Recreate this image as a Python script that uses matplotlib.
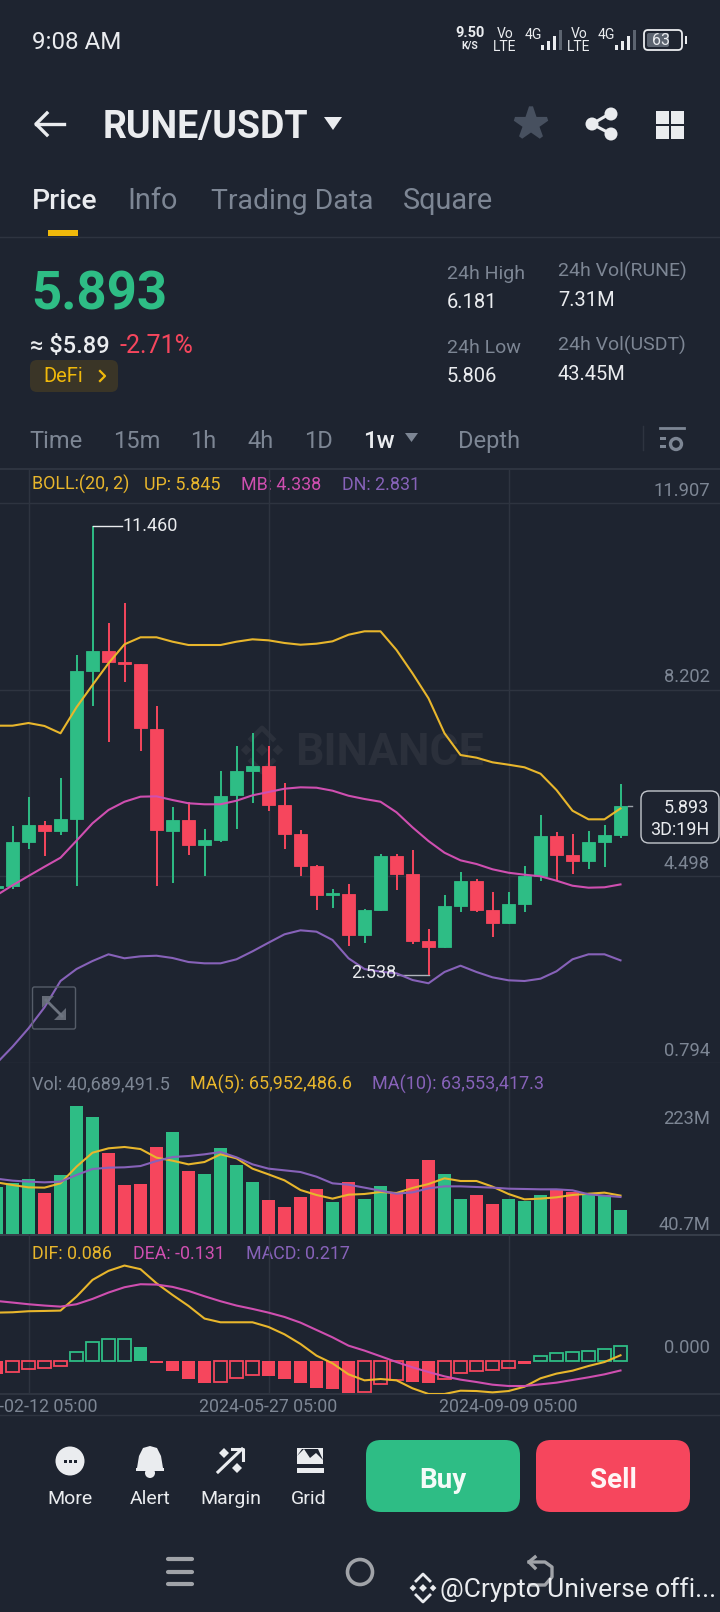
import matplotlib
matplotlib.use('Agg')
import matplotlib.pyplot as plt
import numpy as np
from matplotlib.patches import Circle, FancyBboxPatch, Polygon, Rectangle
from matplotlib.transforms import ScaledTranslation

plt.rcParams['font.family'] = ['Roboto', 'DejaVu Sans']

BG = '#1e2430'
GRID = '#2e3440'
GREEN = '#2ebd85'
RED = '#f6465d'
YELLOW = '#e8b62c'
PINK = '#cf4fb0'
PURPLE = '#8762b9'
GRAY = '#7d8694'
WHITE = '#eaecef'

# candles, the first one is cut by the left edge
idx = np.arange(-1, 39)
opens = [4.267, 4.301, 5.180, 5.523, 5.398, 5.642, 8.579, 8.970, 8.746, 8.706,
         7.422, 5.398, 5.610, 5.114, 5.219, 6.112, 6.595, 6.694, 5.914, 5.332,
         4.703, 4.128, 4.154, 3.340, 3.824, 4.896, 4.539, 3.209, 3.102, 3.909,
         4.406, 3.824, 3.572, 3.949, 4.499, 5.299, 4.922, 4.808, 5.186, 5.318]
highs = [4.320, 5.497, 6.079, 5.602, 6.450, 8.897, 11.460, 9.520, 9.917, 8.706,
         7.878, 5.880, 5.979, 5.443, 6.589, 7.091, 7.349, 7.091, 6.344, 5.418,
         4.723, 4.253, 4.352, 3.850, 4.947, 4.936, 5.027, 3.447, 4.122, 4.578,
         4.445, 4.187, 4.187, 4.703, 5.709, 5.372, 5.338, 5.392, 5.517, 6.325]
lows = [4.250, 4.241, 5.041, 4.896, 5.313, 4.306, 7.878, 7.170, 8.361, 6.985,
        4.306, 4.372, 4.928, 4.505, 5.180, 5.432, 5.960, 5.801, 5.035, 4.505,
        3.830, 3.876, 3.110, 3.169, 3.810, 4.233, 3.155, 2.538, 3.076, 3.796,
        3.790, 3.300, 3.560, 3.796, 4.412, 4.425, 4.551, 4.650, 4.689, 5.259]
closes = [4.306, 5.174, 5.523, 5.392, 5.630, 8.573, 8.970, 8.746, 8.718, 7.436,
          5.412, 5.610, 5.114, 5.219, 6.098, 6.595, 6.694, 5.920, 5.332, 4.709,
          4.128, 4.162, 3.340, 3.824, 4.896, 4.539, 3.209, 3.102, 3.909, 4.406,
          3.824, 3.572, 3.943, 4.499, 5.299, 4.928, 4.808, 5.186, 5.313, 5.893]

boll_up = [7.488, 7.488, 7.541, 7.482, 7.337, 7.853, 8.295, 8.726, 9.103, 9.242,
           9.242, 9.155, 9.089, 9.089, 9.089, 9.155, 9.202, 9.182, 9.129, 9.095,
           9.115, 9.162, 9.293, 9.361, 9.361, 8.990, 8.527, 8.031, 7.337, 6.906,
           6.853, 6.761, 6.714, 6.662, 6.535, 6.211, 5.801, 5.630, 5.630, 5.845]
boll_mb = [4.122, 4.320, 4.505, 4.689, 4.868, 5.205, 5.551, 5.815, 5.979, 6.079,
           6.086, 6.013, 5.948, 5.928, 5.928, 5.999, 6.106, 6.172, 6.237, 6.265,
           6.257, 6.198, 6.098, 6.033, 5.979, 5.769, 5.471, 5.199, 4.967, 4.816,
           4.743, 4.638, 4.570, 4.531, 4.499, 4.412, 4.312, 4.273, 4.281, 4.338]
boll_dn = [0.788, 1.117, 1.482, 1.899, 2.421, 2.659, 2.818, 2.951, 2.872, 2.911,
           2.923, 2.878, 2.798, 2.772, 2.772, 2.852, 3.010, 3.181, 3.348, 3.427,
           3.400, 3.235, 2.872, 2.659, 2.606, 2.574, 2.441, 2.376, 2.600, 2.725,
           2.600, 2.494, 2.435, 2.421, 2.467, 2.614, 2.852, 2.951, 2.951, 2.831]

# volume, in millions
volume = [80.1, 87.0, 94.4, 70.4, 101.9, 219.8, 200.3, 139.1, 84.7, 85.8,
          149.4, 175.1, 107.6, 103.6, 147.1, 117.9, 89.3, 58.4, 46.9, 64.1,
          76.7, 55.5, 89.3, 59.5, 81.8, 72.1, 93.9, 127.1, 102.4, 60.1,
          66.4, 51.5, 60.1, 57.2, 67.0, 75.5, 72.7, 67.0, 65.8, 40.7]
vol_ma5 = [88.7, 84.1, 80.1, 79.6, 87.0, 115.6, 139.6, 147.1, 149.4, 145.9,
           131.1, 125.9, 119.6, 123.6, 136.8, 129.9, 112.2, 102.4, 92.1, 75.5,
           67.0, 60.7, 67.5, 68.7, 72.1, 70.4, 79.0, 85.8, 95.6, 91.0,
           91.0, 81.3, 68.7, 59.5, 60.7, 63.0, 67.0, 69.2, 71.0, 65.95]
vol_ma10 = [95.0, 91.6, 89.9, 88.7, 89.9, 101.3, 111.6, 113.9, 114.5, 116.7,
            125.3, 132.2, 133.9, 136.8, 140.8, 131.6, 119.6, 112.2, 109.3, 106.4,
            98.4, 87.0, 84.7, 79.6, 74.4, 69.2, 71.5, 78.4, 81.8, 81.8,
            80.7, 79.6, 77.8, 77.3, 76.7, 76.7, 75.0, 68.1, 65.8, 63.55]

dif = [0.696, 0.701, 0.716, 0.720, 0.725, 0.925, 1.164, 1.293, 1.369, 1.317,
       1.116, 0.949, 0.792, 0.611, 0.558, 0.558, 0.558, 0.491, 0.386, 0.248,
       0.081, -0.029, -0.186, -0.272, -0.253, -0.272, -0.386, -0.467, -0.467, -0.420,
       -0.425, -0.444, -0.425, -0.363, -0.243, -0.176, -0.134, -0.067, -0.010, 0.086]
dea = [0.863, 0.840, 0.816, 0.797, 0.782, 0.816, 0.892, 0.983, 1.059, 1.102,
       1.097, 1.064, 1.006, 0.930, 0.859, 0.797, 0.749, 0.696, 0.634, 0.553,
       0.448, 0.343, 0.224, 0.153, 0.072, -0.010, -0.086, -0.153, -0.215, -0.262,
       -0.296, -0.334, -0.353, -0.353, -0.329, -0.305, -0.267, -0.229, -0.186, -0.131]
macd = [-0.176, -0.148, -0.110, -0.091, -0.067, 0.138, 0.277, 0.324, 0.324, 0.210,
        -0.024, -0.134, -0.248, -0.315, -0.296, -0.243, -0.196, -0.210, -0.253, -0.310,
        -0.377, -0.401, -0.448, -0.434, -0.324, -0.267, -0.291, -0.305, -0.253, -0.162,
        -0.138, -0.129, -0.095, -0.043, 0.081, 0.119, 0.129, 0.153, 0.176, 0.217]
macd_hollow = [0, 1, 1, 1, 1, 1, 1, 1, 1, 0,
               0, 0, 0, 0, 1, 1, 1, 0, 0, 0,
               0, 0, 0, 1, 1, 1, 0, 0, 1, 1,
               1, 1, 1, 0, 1, 1, 1, 1, 1, 1]

price_ticks = [11.907, 8.202, 4.498, 0.794]
volume_ticks = [223, 40.7]
date_pos = [1, 16, 31]
date_labels = ['2024-02-12 05:00', '2024-05-27 05:00', '2024-09-09 05:00']

W, H = 720, 1612
fig = plt.figure(figsize=(7.2, 16.12), dpi=100, facecolor=BG)


def pane(top, bottom, z=1):
    a = fig.add_axes([0, 1 - bottom / H, 1, (bottom - top) / H], zorder=z)
    a.patch.set_visible(False)
    a.set_xlim((0 - 12.5) / 16, (720 - 12.5) / 16)
    for s in a.spines.values():
        s.set_visible(False)
    a.yaxis.tick_right()
    a.tick_params(axis='y', length=0, pad=-7.2, labelsize=13.2, labelcolor=GRAY)
    a.set_xticks(date_pos)
    a.tick_params(axis='x', length=0, labelbottom=False)
    a.grid(True, color=GRID, lw=1)
    a.set_axisbelow(True)
    return a


def set_ylabels(a, ticks, labels, va, shift):
    a.set_yticks(ticks)
    a.set_yticklabels(labels)
    off = ScaledTranslation(0, shift / 72, fig.dpi_scale_trans)
    for lab in a.get_yticklabels():
        lab.set_ha('right')
        lab.set_va(va)
        lab.set_transform(lab.get_transform() + off)


ui = fig.add_axes([0, 0, 1, 1], zorder=0)
ui.set_xlim(0, W)
ui.set_ylim(H, 0)
ui.axis('off')
top = fig.add_axes([0, 0, 1, 1], zorder=5)
top.set_xlim(0, W)
top.set_ylim(H, 0)
top.axis('off')


def label(s, x, y, size, color=WHITE, ha='left', weight='normal', a=ui):
    # va center sits a bit high because of the descender room
    a.text(x, y + size * 0.12, s, fontsize=size, color=color, ha=ha, va='center', fontweight=weight)


def diamond(a, cx, cy, r, color):
    a.add_patch(Polygon([(cx - r, cy), (cx, cy - r), (cx + r, cy), (cx, cy + r)],
                        closed=True, fc=color, ec='none'))


def logo(a, cx, cy, r, color, lw):
    diamond(a, cx, cy, r * 0.28, color)
    diamond(a, cx - r * 0.72, cy, r * 0.24, color)
    diamond(a, cx + r * 0.72, cy, r * 0.24, color)
    a.plot([cx - r * 0.5, cx, cx + r * 0.5], [cy - r * 0.5, cy - r, cy - r * 0.5], color=color, lw=lw)
    a.plot([cx - r * 0.5, cx, cx + r * 0.5], [cy + r * 0.5, cy + r, cy + r * 0.5], color=color, lw=lw)


# status bar
label('9:08 AM', 32, 40, 17.4)
label('9.50', 470, 32, 10.5, ha='center', weight='bold')
label('K/S', 470, 45, 7.5, ha='center', weight='bold')
for xc in (505, 579):
    label('Vo', xc, 33, 10, ha='center')
    label('LTE', xc, 46, 10, ha='center')
label('4G', 533, 34, 10, ha='center')
label('4G', 606, 34, 10, ha='center')
for x0 in (541, 615):
    for k, bar_h in enumerate((5, 9, 14)):
        ui.add_patch(Rectangle((x0 + k * 6, 50 - bar_h), 3.2, bar_h, fc=WHITE, ec='none'))
    ui.add_patch(Rectangle((x0 + 18, 30), 2.5, 20, fc='#5c6470', ec='none'))
ui.add_patch(FancyBboxPatch((644, 30), 38, 20, boxstyle='round,pad=0,rounding_size=4', fc='none', ec=WHITE, lw=1.3))
ui.add_patch(FancyBboxPatch((647, 33), 22, 14, boxstyle='round,pad=0,rounding_size=2', fc='#5c6470', ec='none'))
ui.add_patch(Rectangle((685, 36), 2, 8, fc=WHITE, ec='none'))
label('63', 661, 39, 11.5, ha='center')

# title row
ui.plot([36, 64], [124, 124], color=WHITE, lw=2.4)
ui.plot([47, 36, 47], [113, 124, 135], color=WHITE, lw=2.4)
label('RUNE/USDT', 103, 124, 27, weight='bold')
ui.add_patch(Polygon([(324, 117), (342, 117), (333, 130)], closed=True, fc=WHITE, ec='none'))
ui.plot([531], [124], marker='*', ms=24, color='#47505f', mec='#47505f', mew=3)
for p, q in (((592, 124), (611, 113)), ((592, 124), (611, 134))):
    ui.plot([p[0], q[0]], [p[1], q[1]], color=WHITE, lw=2.2)
for cx, cy in ((592, 124), (611, 114), (611, 134)):
    ui.add_patch(Circle((cx, cy), 6.5, fc=WHITE, ec='none'))
for cx, cy in ((656, 111), (671, 111), (656, 126), (671, 126)):
    ui.add_patch(Rectangle((cx, cy), 12.5, 12.5, fc=WHITE, ec='none'))

# tabs
label('Price', 32, 199, 20.4, weight='medium')
label('Info', 127, 199, 20.8, GRAY)
label('Trading Data', 211, 199, 20.4, GRAY)
label('Square', 403, 199, 20.8, GRAY)
ui.add_patch(Rectangle((48, 230), 30, 6, fc='#f0b90b', ec='none'))
ui.plot([0, W], [236.5, 236.5], color=GRID, lw=1)

# price block
label('5.893', 31, 290, 38, GREEN, weight='bold')
label('≈ $5.89', 30, 344, 17, weight='medium')
label('-2.71%', 120, 344, 18, RED)
ui.add_patch(FancyBboxPatch((30, 360), 88, 32, boxstyle='round,pad=0,rounding_size=7', fc='#3a3527', ec='none'))
label('DeFi', 43, 375, 14.5, '#f0b90b')
ui.plot([100, 105, 100], [371, 376, 381], color='#f0b90b', lw=1.6)
label('24h High', 447, 272, 14, GRAY)
label('6.181', 447, 301, 14.5)
label('24h Vol(RUNE)', 558, 270, 14, GRAY)
label('7.31M', 558, 299, 14.5)
label('24h Low', 447, 346, 14, GRAY)
label('5.806', 447, 375, 14.5)
label('24h Vol(USDT)', 558, 344, 14, GRAY)
label('43.45M', 558, 373, 14.5)

# interval row
for s, x in (('Time', 29.5), ('15m', 113), ('1h', 190), ('4h', 247), ('1D', 304), ('Depth', 458)):
    label(s, x, 439, 17, GRAY)
label('1w', 363, 439, 17.4, weight='medium')
ui.add_patch(Polygon([(405, 433), (418, 433), (411.5, 442)], closed=True, fc=GRAY, ec='none'))
ui.plot([643, 643], [426, 450], color=GRID, lw=1)
ui.plot([660, 684], [428, 428], color=GRAY, lw=2)
ui.add_patch(Rectangle((660, 437), 6, 3, fc=GRAY, ec='none'))
ui.add_patch(Rectangle((660, 445), 6, 3, fc=GRAY, ec='none'))
ui.add_patch(Circle((676, 444), 5.5, fc='none', ec=GRAY, lw=2.4))
ui.plot([0, W], [468.5, 468.5], color=GRID, lw=1.5)

# watermark sits under the candles
logo(ui, 262, 750, 22, '#2b303b', 3.5)
label('BINANCE', 295, 749, 32, '#2b303b', weight='bold')

label('BOLL:(20, 2)', 32, 483, 12.9, YELLOW)
label('UP: 5.845', 144, 483, 12.9, YELLOW)
label('MB: 4.338', 241, 483, 12.9, PINK)
label('DN: 2.831', 342, 483, 12.9, PURPLE)
label('Vol: 40,689,491.5', 32, 1083, 13, GRAY)
label('MA(5): 65,952,486.6', 190, 1083, 13, YELLOW)
label('MA(10): 63,553,417.3', 372, 1083, 13, PURPLE)
label('DIF: 0.086', 32, 1252, 12.9, YELLOW)
label('DEA: -0.131', 133, 1252, 12.9, PINK)
label('MACD: 0.217', 246, 1252, 12.9, PURPLE)

# price pane, ylim extended so the legend strip stays inside it
ax = pane(470, 1063)
ax.set_ylim(0.794, 12.562)
set_ylabels(ax, price_ticks, ['11.907', '8.202', '4.498', '0.794'], 'bottom', 2.5)

o = np.array(opens)
c = np.array(closes)
cols = [GREEN if c[i] >= o[i] else RED for i in range(len(idx))]
ax.vlines(idx, lows, highs, colors=cols, lw=1.4, zorder=2)
ax.bar(idx, np.abs(c - o), bottom=np.minimum(o, c), width=0.85, color=cols,
       edgecolor=cols, lw=0.6, zorder=3)
ax.plot(idx, boll_up, color=YELLOW, lw=1.5, zorder=4)
ax.plot(idx, boll_mb, color=PINK, lw=1.5, zorder=4)
ax.plot(idx, boll_dn, color=PURPLE, lw=1.5, zorder=4)

ax.plot([5, 6.85], [highs[6], highs[6]], color=WHITE, lw=1, zorder=4)
ax.text(6.9, highs[6], '11.460', color=WHITE, fontsize=13, va='center', ha='left', zorder=6)
ax.plot([24, 26], [2.538, 2.538], color='#b0b4ba', lw=1, zorder=1.5)
ax.text(24, 2.58, '2.538', color=WHITE, fontsize=13, va='center', ha='right', zorder=6)

# volume pane
ax2 = pane(1063, 1234)
ax2.set_ylim(0, 293.6)
set_ylabels(ax2, volume_ticks, ['223M', '40.7M'], 'top', -4.3)
ax2.grid(False, axis='y')
ax2.bar(idx, volume, width=0.85, color=cols, zorder=2)
ax2.plot(idx, vol_ma5, color=YELLOW, lw=1.5, zorder=3)
ax2.plot(idx, vol_ma10, color=PURPLE, lw=1.5, zorder=3)
ui.plot([0, W], [1234.5, 1234.5], color='#39404c', lw=1.3)

# macd pane
ax3 = pane(1234, 1393.7)
ax3.set_ylim(-0.463, 1.820)
set_ylabels(ax3, [0], ['0.000'], 'bottom', 2.9)
ax3.grid(False, axis='y')
m = np.array(macd)
hollow = np.array(macd_hollow) == 1
mcol = np.where(m > 0, GREEN, RED)
ax3.bar(idx[~hollow], m[~hollow], width=0.85, color=mcol[~hollow], zorder=2)
ax3.bar(idx[hollow], m[hollow], width=0.8, facecolor='none', edgecolor=mcol[hollow], lw=1.3, zorder=2)
ax3.plot(idx, dif, color=YELLOW, lw=1.5, zorder=3)
ax3.plot(idx, dea, color=PINK, lw=1.5, zorder=3)
ax3.set_xticks(date_pos)
ax3.set_xticklabels(date_labels)
ax3.tick_params(axis='x', labelbottom=True, labelsize=12.8, labelcolor=GRAY, pad=3)
ui.plot([0, W], [1393.7, 1393.7], color=GRID, lw=1.5)
ui.plot([0, W], [1415.3, 1415.3], color=GRID, lw=1)

# last price box and expand button
top.add_patch(FancyBboxPatch((641, 791), 78, 52, boxstyle='round,pad=0,rounding_size=8', fc=BG, ec='#c4c8ce', lw=1))
label('5.893', 709, 806, 13, ha='right', a=top)
label('3D:19H', 709, 828, 13, ha='right', a=top)
top.plot([628, 632], [806, 806], color='#9aa0a8', lw=1)
top.add_patch(FancyBboxPatch((32.5, 987), 43, 42, boxstyle='round,pad=0,rounding_size=2', fc='none', ec='#565d69', lw=1))
top.add_patch(Polygon([(42, 996), (54, 996), (42, 1008)], closed=True, fc='#6d7480', ec='none', alpha=0.9))
top.add_patch(Polygon([(66, 1020), (54, 1020), (66, 1008)], closed=True, fc='#6d7480', ec='none', alpha=0.9))
top.plot([46, 62], [1000, 1016], color='#6d7480', lw=2)

# bottom buttons
ui.add_patch(Circle((70, 1461), 14.5, fc=WHITE, ec='none'))
for dx in (-5, 0, 5):
    ui.add_patch(Rectangle((70 + dx - 1.5, 1459.5), 3, 3, fc=BG, ec='none'))
ui.add_patch(Polygon([(137, 1468), (139, 1456), (143, 1448), (150, 1446), (157, 1448), (161, 1456), (163, 1468)],
                     closed=True, fc=WHITE, ec='none'))
ui.add_patch(Rectangle((136, 1468), 28, 3, fc=WHITE, ec='none'))
ui.add_patch(Circle((150, 1473), 5, fc=WHITE, ec='none'))
ui.plot([218, 242], [1472, 1449], color=WHITE, lw=2.2)
ui.plot([232, 243, 243], [1449, 1449, 1460], color=WHITE, lw=2.2)
diamond(ui, 224, 1453, 5, WHITE)
diamond(ui, 237, 1468, 5, WHITE)
ui.add_patch(Polygon([(297, 1448), (323, 1448), (323, 1464), (297, 1464)], closed=True, fc=WHITE, ec='none'))
ui.add_patch(Polygon([(297, 1456), (304, 1449), (310, 1458), (316, 1453), (323, 1460), (318, 1449), (302, 1449)],
                     closed=True, fc=BG, ec='none'))
ui.add_patch(Rectangle((297, 1468), 27, 5, fc=WHITE, ec='none'))
label('More', 70, 1497, 14, ha='center')
label('Alert', 150, 1497, 14, ha='center')
label('Margin', 231, 1497, 14, ha='center')
label('Grid', 309, 1497, 14, ha='center')
ui.add_patch(FancyBboxPatch((366, 1440), 154, 72, boxstyle='round,pad=0,rounding_size=15', fc=GREEN, ec='none'))
ui.add_patch(FancyBboxPatch((536, 1440), 154, 72, boxstyle='round,pad=0,rounding_size=15', fc=RED, ec='none'))
label('Buy', 443, 1478, 20, '#f4fbf8', ha='center', weight='bold')
label('Sell', 613, 1478, 20, '#fff4f5', ha='center', weight='bold')

# nav bar with the watermark caption over it
for yy in (1559, 1572, 1584):
    ui.plot([168, 192], [yy, yy], color='#a0a3a8', lw=3, solid_capstyle='round')
ui.add_patch(Circle((360, 1572), 12.5, fc='none', ec='#a0a3a8', lw=2.6))
ui.plot([529, 545, 552, 552, 545, 530], [1562, 1562, 1567, 1577, 1585, 1585], color='#a0a3a8', lw=2.4)
ui.plot([535, 529, 535], [1557, 1562, 1568], color='#a0a3a8', lw=2.4)
logo(top, 423, 1588, 14, WHITE, 2)
label('@Crypto Universe offi...', 440, 1587, 19, a=top)

fig.savefig('out.png', dpi=100, facecolor=BG)
